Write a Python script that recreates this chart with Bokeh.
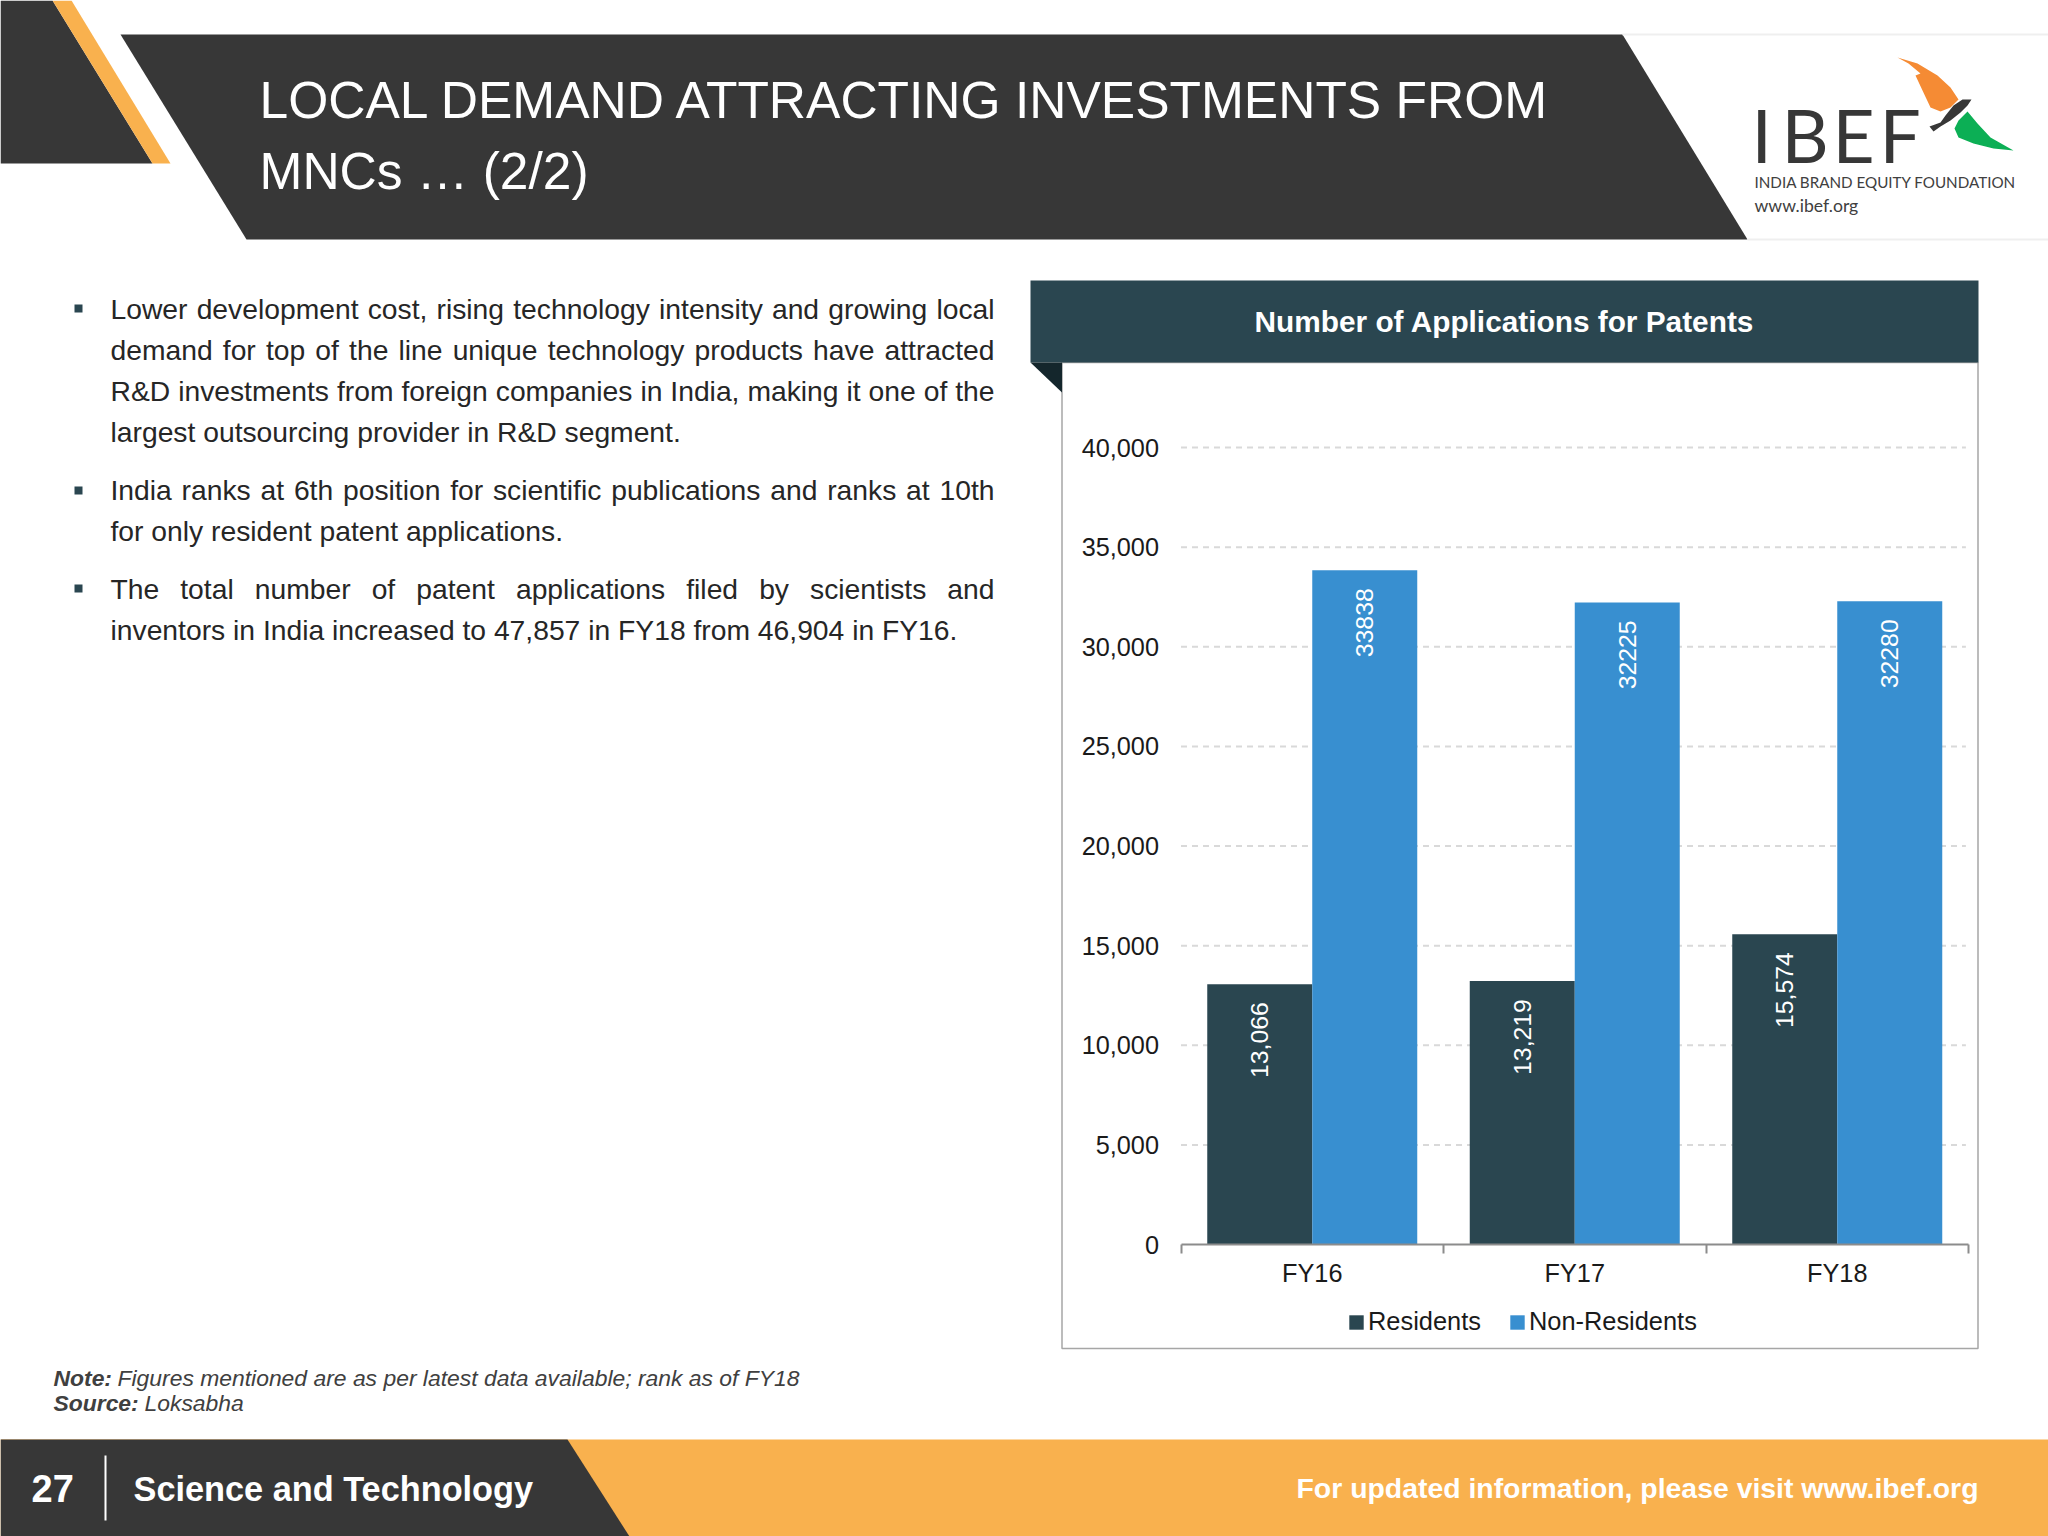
from bokeh.core.properties import value
from bokeh.embed import file_html
from bokeh.resources import INLINE
from bokeh.plotting import figure
from bokeh.models import (ColumnDataSource, Range1d, FixedTicker, NumeralTickFormatter, LinearAxis,
                          Legend, LegendItem)
from bokeh.transform import dodge

# ---- data ----
categories = ["FY16", "FY17", "FY18"]
residents = [13066, 13219, 15574]
non_residents = [33838, 32225, 32280]
y_ticks = [0, 5000, 10000, 15000, 20000, 25000, 30000, 35000, 40000]

title_lines = ["LOCAL DEMAND ATTRACTING INVESTMENTS FROM", "MNCs \u2026 (2/2)"]
chart_title = "Number of Applications for Patents"
bullets = [
    ["Lower development cost, rising technology intensity and growing local",
     "demand for top of the line unique technology products have attracted",
     "R&D investments from foreign companies in India, making it one of the",
     "largest outsourcing provider in R&D segment."],
    ["India ranks at 6th position for scientific publications and ranks at 10th",
     "for only resident patent applications."],
    ["The total number of patent applications filed by scientists and",
     "inventors in India increased to 47,857 in FY18 from 46,904 in FY16."],
]

# ---- palette ----
DARK = "#373737"
ORANGE = "#F9B14E"
TEAL = "#2A4650"
BLUE = "#388FD0"
FONT = "Liberation Sans"

W, H = 2048, 1536
X0, UX = 1180.5, 262.5            # pixel of category edge 0, pixels per category
Y0, UY = 1244.0, 797.0 / 40000    # pixel of value 0, pixels per unit
BASE = 0.38                       # baseline correction of the text glyph, in em

p = figure(width=W, height=H, output_backend="svg", toolbar_location=None,
           x_range=Range1d(-X0 / UX, (W - X0) / UX), y_range=Range1d(-(H - Y0) / UY, Y0 / UY),
           x_axis_location=None, y_axis_location=None, min_border=0, margin=(0, 0, 0, 0),
           outline_line_color=None, background_fill_color="#FFFFFF", border_fill_color="#FFFFFF")
p.grid.visible = False
p.extra_x_ranges["px"] = Range1d(0, W)
p.extra_y_ranges["px"] = Range1d(H, 0)


def poly(pts, color, line=None, lw=0):
    p.patch([a for a, _ in pts], [b for _, b in pts], x_range_name="px", y_range_name="px",
            fill_color=color, fill_alpha=1 if color else 0, line_color=line, line_width=lw)


def txt(x, y, s, size, color="#262626", style="normal", align="left", font=FONT):
    p.text([x], [y - BASE * size], text=[s], x_range_name="px", y_range_name="px", text_font=value(font),
           text_font_size=f"{size}px", text_color=color, text_font_style=style,
           text_align=align, text_baseline="alphabetic")


ARIAL = dict(zip("ABCDEFGHIJKLMNOPQRSTUVWXYZ",
                 [667,667,722,722,667,611,778,722,278,500,667,556,833,722,778,667,778,722,667,611,722,667,944,667,667,611]))
ARIAL.update(zip("abcdefghijklmnopqrstuvwxyz",
                 [556,556,500,556,556,278,556,556,222,222,500,222,833,556,556,556,556,333,500,278,556,500,722,500,500,500]))
ARIAL.update({c: 556 for c in "0123456789"})
ARIAL.update({",": 278, ".": 278, "&": 667, "-": 333, " ": 278})


def justified(x0, x1, y, line, size, color):
    words = line.split(" ")
    widths = [sum(ARIAL[c] for c in w) * size / 1000 for w in words]
    gap = (x1 - x0 - sum(widths)) / (len(words) - 1)
    x = x0
    for w, wd in zip(words, widths):
        txt(x, y, w, size, color)
        x += wd + gap


# ---- slide furniture ----
poly([(0, 0), (52, 0), (152, 163), (0, 163)], DARK)
poly([(52, 0), (71, 0), (170, 163), (152, 163)], ORANGE)
poly([(120, 34), (1622, 34), (1747, 239), (246, 239)], DARK)
poly([(1622, 33), (2048, 33), (2048, 35), (1622, 35)], "#EFEFEF")
poly([(1747, 238), (2048, 238), (2048, 240), (1747, 240)], "#EFEFEF")
poly([(0, 1439), (2048, 1439), (2048, 1536), (0, 1536)], ORANGE)
poly([(0, 1439), (567, 1439), (629, 1536), (0, 1536)], DARK)
poly([(104, 1455), (106, 1455), (106, 1520), (104, 1520)], "#FFFFFF")

# panel
poly([(1061.5, 362), (1977.5, 362), (1977.5, 1348), (1061.5, 1348)], "#FFFFFF", "#A6A6A6", 1.5)
poly([(1030, 280), (1978, 280), (1978, 362), (1030, 362)], TEAL)
poly([(1030, 362), (1061.5, 362), (1061.5, 392)], "#14262C")

# bird
poly([(1897, 57), (1917, 63), (1937, 75), (1950, 87), (1958, 99), (1950, 107), (1940, 111),
      (1930, 107), (1922, 90), (1915, 75), (1920, 73), (1908, 63)], "#F58B34")
poly([(1967, 111), (1977, 123), (1990, 137), (2013, 150), (1993, 148), (1973, 143),
      (1958, 137), (1954, 128), (1958, 120)], "#0CAF55")
poly([(1971, 99), (1962, 99), (1953, 105), (1945, 115), (1940, 122), (1929, 126), (1933, 131),
      (1940, 126), (1950, 120), (1960, 112), (1967, 105)], DARK)

# bullets
for cy in (308, 490, 588):
    poly([(74, cy - 4), (82, cy - 4), (82, cy + 4), (74, cy + 4)], TEAL)

# ---- chart ----
positions = [i + 0.5 for i in range(len(categories))]
src = ColumnDataSource(dict(pos=positions, residents=residents, non_residents=non_residents,
                            res_lab=[f"{v:,}" for v in residents], non_lab=[str(v) for v in non_residents]))
p.segment(x0=0, x1=2.99, y0=y_ticks[1:], y1=y_ticks[1:], line_color="#D9D9D9", line_width=2, line_dash=value([6, 5]))
r1 = p.vbar(x=dodge("pos", -0.2), top="residents", width=0.4, source=src, fill_color=TEAL, line_color=None)
r2 = p.vbar(x=dodge("pos", 0.2), top="non_residents", width=0.4, source=src, fill_color=BLUE, line_color=None)
for off, field, lab in ((-0.2, "residents", "res_lab"), (0.2, "non_residents", "non_lab")):
    p.text(x=dodge("pos", off), y=field, text=lab, source=src, angle=1.5707963,
           text_align="right", text_baseline="middle", y_offset=18, text_color="#FFFFFF",
           text_font=value(FONT), text_font_size="24.8px")

ya = LinearAxis(fixed_location=0, bounds=(0, 40000), ticker=FixedTicker(ticks=y_ticks),
                formatter=NumeralTickFormatter(format="0,0"), axis_line_color=None,
                major_tick_line_color=None, minor_tick_line_color=None, major_label_standoff=16,
                major_label_text_font=FONT, major_label_text_font_size="25.3px", major_label_text_color="#1A1A1A")
p.add_layout(ya, "left")

xa = LinearAxis(fixed_location=0, bounds=(0, 3), ticker=FixedTicker(ticks=positions, minor_ticks=[0, 1, 2, 3]),
                major_label_overrides=dict(zip(positions, categories)),
                axis_line_color="#8C8C8C", axis_line_width=2,
                major_tick_in=0, major_tick_out=0, minor_tick_in=0, minor_tick_out=9,
                minor_tick_line_color="#8C8C8C", minor_tick_line_width=2,
                major_label_standoff=5,
                major_label_text_font=FONT, major_label_text_font_size="25.3px", major_label_text_color="#1A1A1A")
p.add_layout(xa, "below")

legend = Legend(items=[LegendItem(label="Residents", renderers=[r1]), LegendItem(label="Non-Residents", renderers=[r2])],
                orientation="horizontal", location=(1347, 200), background_fill_alpha=0, border_line_color=None,
                glyph_width=18, glyph_height=18, label_standoff=3, spacing=27, padding=0, margin=0,
                label_text_font=FONT, label_text_font_size="25.4px", label_text_color="#1A1A1A")
p.add_layout(legend, "center")

# ---- texts ----
txt(259, 119.5, title_lines[0], 51.5, "#FFFFFF")
txt(259, 190.5, title_lines[1], 51.5, "#FFFFFF")
txt(1504, 332, chart_title, 29.8, "#FFFFFF", "bold", "center")

y = 319
for block in bullets:
    for j, line in enumerate(block):
        if j < len(block) - 1:
            justified(110, 994, y, line, 28.27, "#262626")
        else:
            txt(110, y, line, 28.27)
        y += 41.1
    y += 17

txt(53, 1386, "Note:", 22.9, "#404040", "bold italic")
txt(117, 1386, "Figures mentioned are as per latest data available; rank as of FY18", 22.9, "#404040", "italic")
txt(53, 1411, "Source:", 22.9, "#404040", "bold italic")
txt(144, 1411, "Loksabha", 22.9, "#404040", "italic")

txt(31, 1502, "27", 38, "#FFFFFF", "bold")
txt(133, 1501.5, "Science and Technology", 34.3, "#FFFFFF", "bold")
txt(1978, 1498, "For updated information, please visit www.ibef.org", 28.4, "#FFFFFF", "bold", "right")

# logo
for lx, ch in ((1751, "I"), (1781, "B"), (1832, "E"), (1879, "F")):
    txt(lx, 162, ch, 73, DARK, font="Lato")
txt(1754, 187, "INDIA BRAND EQUITY FOUNDATION", 15.2, "#404040", font="Lato")
txt(1754, 212, "www.ibef.org", 17.6, "#404040", font="Lato")

open("out.html", "w").write(file_html(p, INLINE))
